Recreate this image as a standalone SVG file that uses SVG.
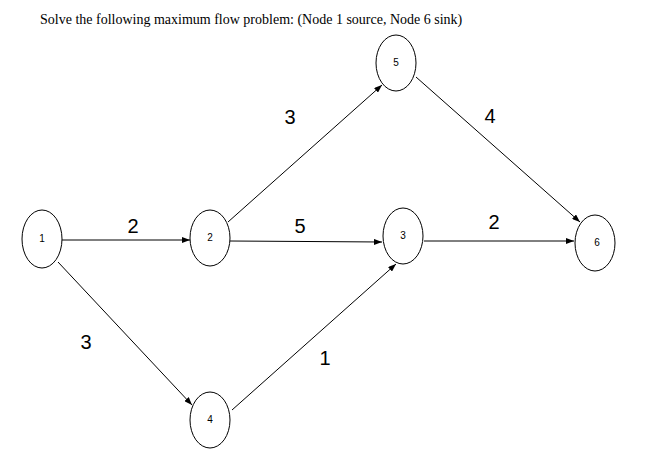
<svg xmlns="http://www.w3.org/2000/svg" width="650" height="472" viewBox="0 0 650 472">
<style>
.n{fill:#fff;stroke:#000;stroke-width:1}
.nt{font-family:"Liberation Sans",Arial,sans-serif;font-size:10px;text-anchor:middle}
.e{stroke:#000;stroke-width:1;fill:none;marker-end:url(#a)}
.l{font-family:"Liberation Sans",Arial,sans-serif;font-size:20px;text-anchor:middle}
</style>
<defs><marker id="a" markerWidth="8" markerHeight="6" refX="8" refY="3" orient="auto" markerUnits="userSpaceOnUse"><path d="M0,0L8,3L0,6z" fill="#000"/></marker></defs>
<rect width="650" height="472" fill="#fff"/>
<text x="40" y="24" font-family="Liberation Serif,serif" font-size="14">Solve the following maximum flow problem: (Node 1 source, Node 6 sink)</text>
<g id="edges">
<line class="e" x1="62" y1="240" x2="190" y2="240"/>
<line class="e" x1="228" y1="222" x2="382" y2="85"/>
<line class="e" x1="230" y1="241" x2="382" y2="242"/>
<line class="e" x1="416" y1="77" x2="580" y2="222"/>
<line class="e" x1="424" y1="241" x2="574" y2="241"/>
<line class="e" x1="58" y1="262" x2="192" y2="405"/>
<line class="e" x1="232" y1="410" x2="396" y2="264"/>
<text class="l" x="133" y="233">2</text>
<text class="l" x="290" y="124">3</text>
<text class="l" x="300" y="233">5</text>
<text class="l" x="490" y="123">4</text>
<text class="l" x="494" y="229">2</text>
<text class="l" x="86" y="349">3</text>
<text class="l" x="325" y="365">1</text>
</g>
<g id="n1"><ellipse class="n" cx="42" cy="239" rx="20" ry="29"/><text class="nt" x="42" y="242">1</text></g>
<g id="n2"><ellipse class="n" cx="210" cy="238" rx="20" ry="28"/><text class="nt" x="210" y="241">2</text></g>
<g id="n5"><ellipse class="n" cx="396" cy="63" rx="20" ry="28"/><text class="nt" x="396" y="66">5</text></g>
<g id="n3"><ellipse class="n" cx="403" cy="236" rx="20" ry="28"/><text class="nt" x="403" y="239">3</text></g>
<g id="n6"><ellipse class="n" cx="595" cy="243" rx="20" ry="28"/><text class="nt" x="597" y="246">6</text></g>
<g id="n4"><ellipse class="n" cx="210" cy="420" rx="20" ry="28"/><text class="nt" x="210" y="423">4</text></g>
</svg>
